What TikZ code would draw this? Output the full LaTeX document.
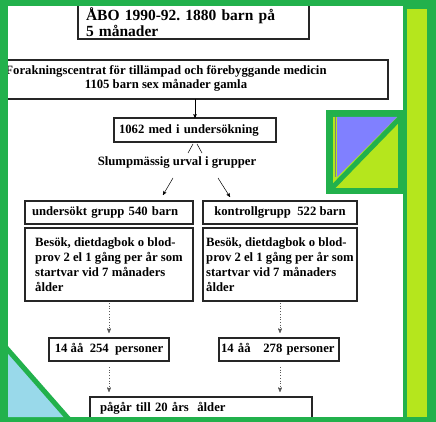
\documentclass[tikz,border=0pt]{standalone}
\usepackage{fontspec}
\setmainfont{Liberation Serif}
\usetikzlibrary{arrows, positioning}
\definecolor{framegreen}{RGB}{34,177,76}
\definecolor{framelime}{RGB}{181,230,29}
\definecolor{tilepurple}{RGB}{128,128,255}
\definecolor{cornerblue}{RGB}{153,217,234}
\newcommand\bodyfont{\bfseries\fontsize{12.7}{15}\selectfont}
\frenchspacing

\begin{document}
\begin{tikzpicture}[x=1pt, y=-1pt, >=stealth',
	box/.style={draw=black!85, line width=1.1pt, fill=white, rectangle, inner sep=0pt, outer sep=0pt, font=\bodyfont},
	arr/.style={->, line width=0.5pt},
	dots/.style={->, dotted, line width=0.7pt, draw=black!65}]
	\useasboundingbox (0,0) rectangle (436,422);
	\fill[white] (0,0) rectangle (436,422);
	% boxes
	\node[box, anchor=north west, minimum height=34pt, text width=215pt, inner xsep=8pt, align=left, font=\bfseries\fontsize{15.5}{16}\selectfont] (cohort) at (78,5) {ÅBO 1990-92. 1880 barn på\\5 månader};
	\node[box, anchor=north west, minimum width=386pt, minimum height=39pt] (centre) at (2,60) {};
	\node[font=\bfseries\fontsize{12.7}{14}\selectfont, align=center, inner sep=0pt] (centretxt) at (166,78) {Forakningscentrat för tillämpad och förebyggande medicin\\1105 barn sex månader gamla};
	\node[box, below=19pt of centre, minimum height=24pt, text width=152pt, inner xsep=5pt, align=left] (enrolled) {1062 med i undersökning};
	\node[font=\bodyfont, inner sep=0pt] (random) at (177,162) {Slumpmässig urval i grupper};
	\node[box, anchor=north west, minimum height=23pt, text width=154pt, inner xsep=7pt, align=left] (study) at (25,201) {undersökt grupp 540 barn};
	\node[box, right=10pt of study, minimum width=154pt, minimum height=23pt] (control) {kontrollgrupp~ 522 barn};
	\node[box, below=4pt of study, minimum width=168pt, minimum height=73pt, align=left] (studyplan) {Besök, dietdagbok o blod-\\prov 2 el 1 gång per år som\\startvar vid 7 månaders\\ålder};
	\node[box, below=4pt of control, minimum width=154pt, minimum height=73pt, align=left] (controlplan) {Besök, dietdagbok o blod-\\prov 2 el 1 gång per år som\\startvar vid 7 månaders\\ålder};
	\node[box, below=37pt of studyplan, minimum width=120pt, minimum height=23pt] (studycount) {14 åå~ 254~ personer};
	\node[box, anchor=north west, minimum height=23pt, text width=116pt, inner xsep=2pt, align=left] (controlcount) at (219,338) {14 åå~~ 278 personer};
	\node[box, anchor=north west, minimum height=22pt, text width=202pt, inner xsep=10pt, align=left] (followup) at (90,397) {pågår till 20 års~ ålder};
	% connectors
	\coordinate (forkl) at ([shift={(-7pt,-11pt)}]enrolled.south);
	\coordinate (forkr) at ([shift={(7pt,-11pt)}]enrolled.south);
	\coordinate (splitl) at ([shift={(-4pt,-16pt)}]random.center);
	\coordinate (splitr) at ([shift={(41pt,-16pt)}]random.center);
	\draw[arr] (centre) -- (enrolled);
	\draw[line width=0.5pt] (forkl) -- ([shift={(-2pt,-2pt)}]enrolled.south);
	\draw[line width=0.5pt] (forkr) -- ([shift={(2pt,-2pt)}]enrolled.south);
	\draw[arr] (splitl) -- ([shift={(-14pt,-33pt)}]random.center);
	\draw[arr] (splitr) -- ([shift={(53pt,-35pt)}]random.center);
	\draw[dots, shorten <=2pt, shorten >=5pt] (studyplan) -- (studycount);
	\draw[dots, shorten <=2pt, shorten >=5pt] (controlplan.south) -- (controlplan.south |- controlcount.north);
	\draw[dots, shorten <=6pt, shorten >=5pt] (studycount.south) -- (studycount.south |- followup.north);
	\draw[dots, shorten <=6pt, shorten >=5pt] (controlcount.south -| controlplan.south) -- (controlplan.south |- followup.north);
	% frame
	\fill[framegreen] (0,0) rectangle (436,6);
	\fill[framegreen] (0,0) rectangle (8,422);
	\fill[framegreen] (0,417) rectangle (436,422);
	\fill[framegreen] (403,0) rectangle (436,422);
	\fill[framelime] (407,9) rectangle (427,417);
	\fill[framegreen] (326,110) rectangle (404,194);
	\fill[framelime] (333,117) rectangle (398,188);
	\fill[tilepurple] (337,117) -- (397,117) -- (337,177) -- cycle;
	\draw[gray, line width=1.5pt] (335.5,117) -- (335.5,177);
	\draw[framegreen, line width=5pt] (401,117) -- (331,189);
	\fill[cornerblue] (8,350) -- (8,417) -- (67,417) -- cycle;
	\draw[framegreen, line width=5pt] (5,346.5) -- (70,420.5);
\end{tikzpicture}
\end{document}
